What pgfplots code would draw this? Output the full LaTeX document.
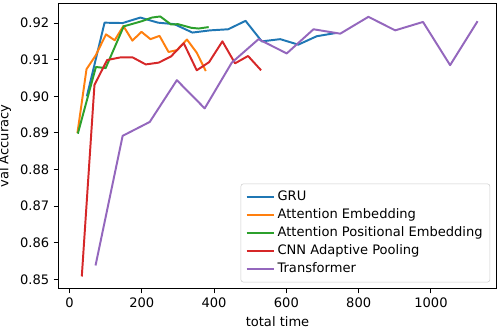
\documentclass[border=0pt]{standalone}
\usepackage{pgfplots}
\pgfplotsset{compat=1.18}
\usepackage{fontspec}
\setmainfont{DejaVu Sans}
\definecolor{c0}{HTML}{1F77B4}
\definecolor{c1}{HTML}{FF7F0E}
\definecolor{c2}{HTML}{2CA02C}
\definecolor{c3}{HTML}{D62728}
\definecolor{c4}{HTML}{9467BD}
\begin{document}
\begin{tikzpicture}
\begin{axis}[
  scale only axis, width=335.8pt, height=218.8pt,
  xmin=-31, xmax=1182, ymin=0.8474, ymax=0.9254,
  xtick={0,200,400,600,800,1000},
  ytick={0.85,0.86,0.87,0.88,0.89,0.90,0.91,0.92},
  xticklabel style={/pgf/number format/1000 sep={}},
  yticklabel style={/pgf/number format/.cd, fixed, fixed zerofill, precision=2},
  /pgf/number format/assume math mode=true,
  scaled y ticks=false,
  xtick pos=bottom, ytick pos=left,
  tick align=outside, major tick length=3.5pt,
  every tick/.style={black, line width=0.8pt},
  axis line style={black, line width=0.8pt},
  ticklabel style={font=\fontsize{10}{12}\selectfont},
  xlabel={total time}, ylabel={val Accuracy},
  label style={font=\fontsize{10}{12}\selectfont},
  legend cell align=left,
  legend style={at={(1,0)}, anchor=south east, xshift=-5pt, yshift=5pt,
    draw=black!20, rounded corners=2pt, fill=white,
    font=\fontsize{10}{12}\selectfont, row sep=0.7pt, inner sep=3.6pt},
  legend image code/.code={\draw[#1, line width=1.5pt] (0pt,0pt) -- (21pt,0pt);},
  every axis plot/.append style={line width=1.5pt, line join=round, no marks},
]
\addplot[c0] coordinates {(48,0.9000) (97,0.9201) (147,0.9200) (196,0.9215) (245,0.9201) (290,0.9197) (340,0.9174) (389,0.9180) (439,0.9183) (487,0.9206) (532,0.9150) (583,0.9156) (633,0.9141) (684,0.9164) (738,0.9173)};
\addlegendentry{GRU}
\addplot[c1] coordinates {(22,0.8900) (47,0.9074) (72,0.9111) (101,0.9169) (125,0.9153) (149,0.9192) (174,0.9152) (199,0.9176) (224,0.9156) (249,0.9165) (274,0.9121) (297,0.9126) (325,0.9155) (352,0.9119) (377,0.9069)};
\addlegendentry{Attention Embedding}
\addplot[c2] coordinates {(23,0.8898) (73,0.9080) (100,0.9077) (150,0.9191) (200,0.9205) (228,0.9215) (251,0.9218) (281,0.9196) (300,0.9197) (337,0.9187) (357,0.9185) (385,0.9189)};
\addlegendentry{Attention Positional Embedding}
\addplot[c3] coordinates {(34,0.8508) (69,0.9031) (104,0.9099) (140,0.9106) (175,0.9106) (211,0.9087) (247,0.9092) (281,0.9109) (316,0.9145) (352,0.9071) (386,0.9093) (423,0.9150) (458,0.9090) (494,0.9110) (530,0.9071)};
\addlegendentry{CNN Adaptive Pooling}
\addplot[c4] coordinates {(72,0.8538) (147,0.8892) (222,0.8930) (297,0.9044) (374,0.8967) (449,0.9092) (523,0.9156) (601,0.9117) (675,0.9183) (749,0.9171) (827,0.9217) (901,0.9180) (978,0.9203) (1053,0.9085) (1129,0.9205)};
\addlegendentry{Transformer}
\end{axis}
\pgfresetboundingbox
\path (-44.66pt,-32.17pt) rectangle (338.3pt,221.3pt);
\end{tikzpicture}
\end{document}
